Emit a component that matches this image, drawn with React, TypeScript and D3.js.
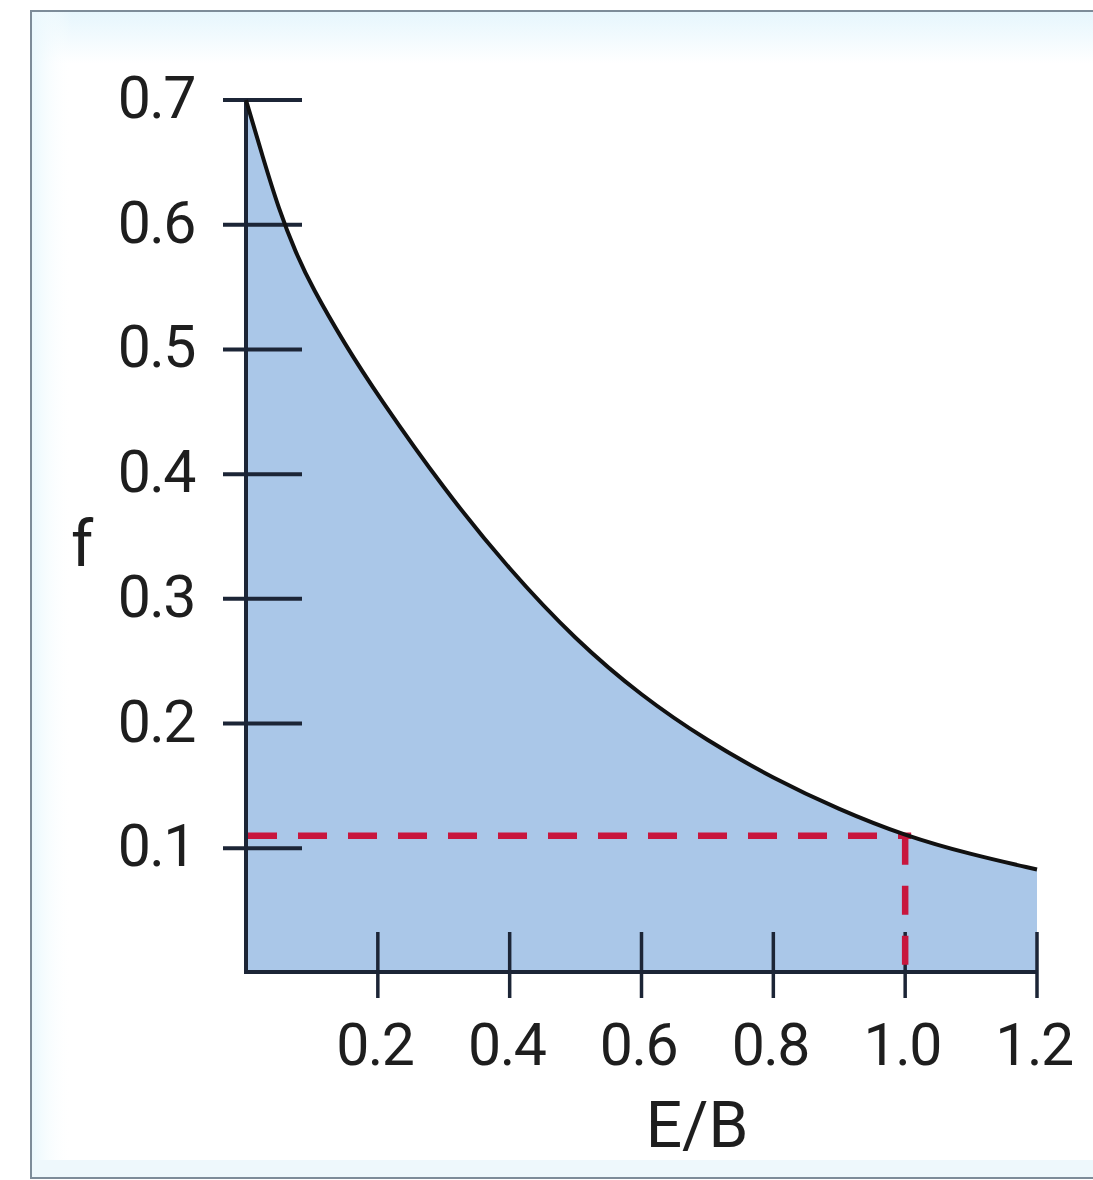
import React from "react";
import * as d3 from "d3";

const ebValues = [0, 0.025, 0.05, 0.075, 0.1, 0.15, 0.2, 0.3, 0.4, 0.5, 0.6, 0.7, 0.8, 0.9, 1.0, 1.1, 1.2];
const fValues = [0.7, 0.655, 0.612, 0.578, 0.55, 0.504, 0.463, 0.388, 0.323, 0.267, 0.222, 0.186, 0.156, 0.131, 0.11, 0.095, 0.083];
const yTickValues = [0.1, 0.2, 0.3, 0.4, 0.5, 0.6, 0.7];
const xTickValues = [0.2, 0.4, 0.6, 0.8, 1.0, 1.2];
const markerEB = 1.0;
const markerF = 0.11;
const xTitle = "E/B";
const yTitle = "f";

export default function App() {
  const W = 1093;
  const H = 1180;
  const x = d3.scaleLinear().domain([0, 1.2]).range([246, 1037]);
  const y = d3.scaleLinear().domain([0, 0.7]).range([973, 100]);
  const pts = ebValues.map((e, i) => [e, fValues[i]] as [number, number]);
  const curve = d3.curveBasis;
  const area = d3
    .area<[number, number]>()
    .x((d) => x(d[0]))
    .y0(y(0))
    .y1((d) => y(d[1]))
    .curve(curve);
  const line = d3
    .line<[number, number]>()
    .x((d) => x(d[0]))
    .y((d) => y(d[1]))
    .curve(curve);
  const axisColor = "#1c2536";
  const textColor = "#1e1e1e";
  const font = "Roboto, 'Liberation Sans', sans-serif";
  const fmt = d3.format(".1f");
  return (
    <svg
      width={W}
      height={H}
      style={{ position: "absolute", left: 0, top: 0, background: "#fff" }}
    >
      <defs>
        <linearGradient id="topband" x1="0" y1="0" x2="0" y2="1">
          <stop offset="0" stopColor="#e6f6fd" />
          <stop offset="1" stopColor="#ffffff" />
        </linearGradient>
        <linearGradient id="leftband" x1="0" y1="0" x2="1" y2="0">
          <stop offset="0" stopColor="#eaf8fd" />
          <stop offset="1" stopColor="#ffffff" stopOpacity="0" />
        </linearGradient>
      </defs>
      <rect x={32} y={12} width={W} height={52} fill="url(#topband)" />
      <rect x={32} y={12} width={40} height={1166} fill="url(#leftband)" />
      <rect x={32} y={1160} width={W} height={18} fill="#eef8fc" />
      <rect
        x={31}
        y={11}
        width={W + 20}
        height={1167}
        fill="none"
        stroke="#7d8c99"
        strokeWidth={2}
      />
      <path d={area(pts) || ""} fill="#aac7e8" />
      {/* axes */}
      <line x1={x(0)} x2={x(0)} y1={y(0.7)} y2={y(0) + 1} stroke={axisColor} strokeWidth={4} />
      <line x1={x(0) - 2} x2={x(1.2)} y1={y(0) - 1} y2={y(0) - 1} stroke={axisColor} strokeWidth={4} />
      {yTickValues.map((v) => (
        <g key={"yt" + v}>
          <line x1={223} x2={302} y1={y(v)} y2={y(v)} stroke={axisColor} strokeWidth={4} />
          <text
            x={195}
            y={y(v) + 18}
            textAnchor="end"
            fontFamily={font}
            fontSize={59}
            fill={textColor}
            letterSpacing={-1.5}
          >
            {fmt(v)}
          </text>
        </g>
      ))}
      {xTickValues.map((v) => (
        <g key={"xt" + v}>
          <line x1={x(v)} x2={x(v)} y1={932} y2={998} stroke={axisColor} strokeWidth={3.5} />
          <text
            x={x(v) - 3}
            y={1065}
            textAnchor="middle"
            fontFamily={font}
            fontSize={59}
            fill={textColor}
            letterSpacing={-1.5}
          >
            {fmt(v)}
          </text>
        </g>
      ))}
      {/* dashed marker */}
      <line
        x1={x(0) + 2}
        x2={x(markerEB) + 6}
        y1={y(markerF)}
        y2={y(markerF)}
        stroke="#c8163e"
        strokeWidth={6.5}
        strokeDasharray="29 21"
      />
      <line
        x1={x(markerEB)}
        x2={x(markerEB)}
        y1={y(markerF)}
        y2={y(0)}
        stroke="#c8163e"
        strokeWidth={6.5}
        strokeDasharray="29 21"
      />
      <path d={line(pts) || ""} fill="none" stroke="#111" strokeWidth={4} />
      <text
        x={697}
        y={1147}
        textAnchor="middle"
        fontFamily={font}
        fontSize={64}
        fill={textColor}
      >
        {xTitle}
      </text>
      <text
        x={82}
        y={566}
        textAnchor="middle"
        fontFamily={font}
        fontSize={64}
        fill={textColor}
      >
        {yTitle}
      </text>
    </svg>
  );
}
